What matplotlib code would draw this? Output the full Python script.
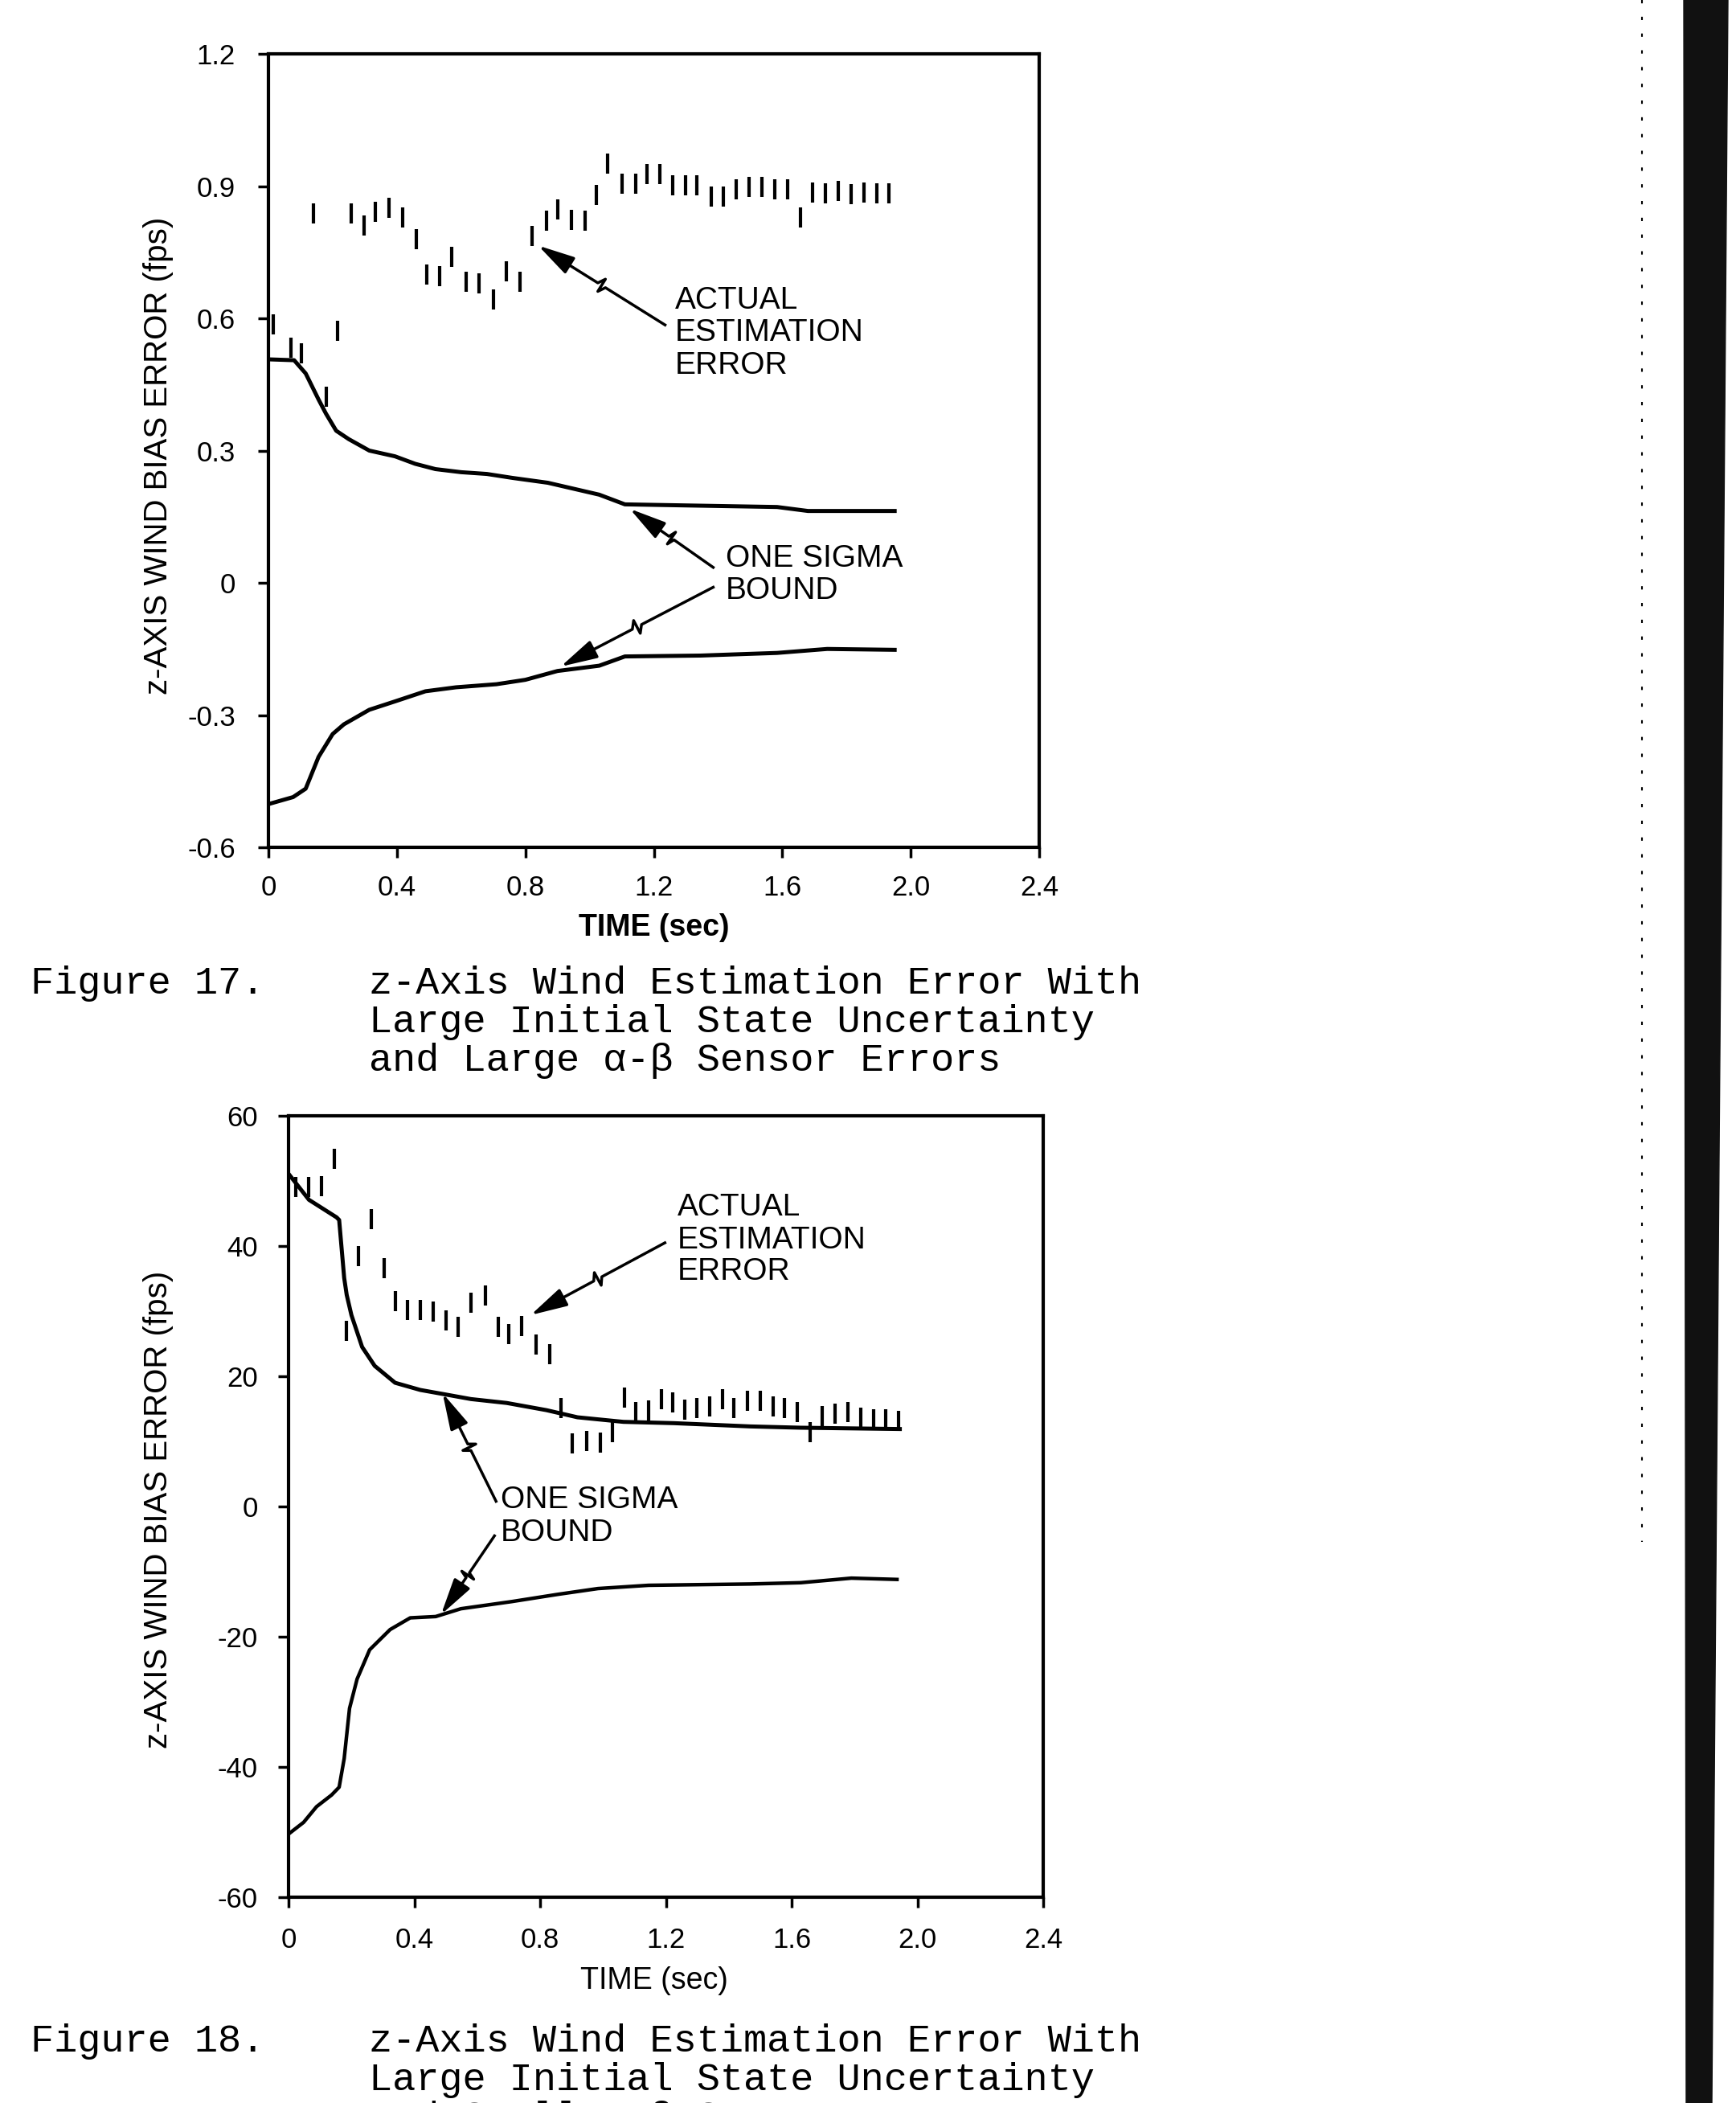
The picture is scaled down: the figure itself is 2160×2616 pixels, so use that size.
import numpy as np
import matplotlib
matplotlib.use("Agg")
import matplotlib.pyplot as plt
from matplotlib.lines import Line2D
from matplotlib.patches import Polygon

plt.rcParams['font.family'] = ['Liberation Sans', 'DejaVu Sans']
plt.rcParams['axes.unicode_minus'] = False

# ---- data ----
# Figure 17 (top): large alpha-beta sensor errors
top_err_t = [0.016, 0.071, 0.103, 0.14, 0.179, 0.216, 0.259, 0.298, 0.333, 0.375,
             0.417, 0.46, 0.494, 0.533, 0.571, 0.616, 0.656, 0.70, 0.74, 0.783,
             0.822, 0.865, 0.902, 0.944, 0.986, 1.021, 1.057, 1.10, 1.143, 1.179,
             1.219, 1.259, 1.298, 1.335, 1.378, 1.417, 1.457, 1.497, 1.537, 1.576,
             1.616, 1.656, 1.695, 1.735, 1.775, 1.814, 1.854, 1.894, 1.933]
top_err_v = [0.587, 0.535, 0.522, 0.838, 0.423, 0.572, 0.838, 0.812, 0.843, 0.851,
             0.83, 0.78, 0.70, 0.696, 0.741, 0.683, 0.68, 0.644, 0.708, 0.683,
             0.787, 0.822, 0.848, 0.825, 0.822, 0.88, 0.952, 0.906, 0.906, 0.929,
             0.929, 0.903, 0.903, 0.903, 0.877, 0.877, 0.893, 0.90, 0.90, 0.893,
             0.893, 0.83, 0.886, 0.884, 0.89, 0.882, 0.886, 0.884, 0.884]

top_up_t = [0, 0.08, 0.116, 0.156, 0.179, 0.211, 0.25, 0.314, 0.394, 0.457, 0.52,
            0.6, 0.68, 0.76, 0.87, 1.03, 1.11, 1.346, 1.584, 1.68, 1.95]
top_up_v = [0.507, 0.505, 0.475, 0.416, 0.384, 0.345, 0.326, 0.30, 0.287, 0.27, 0.258,
            0.251, 0.247, 0.238, 0.227, 0.20, 0.178, 0.175, 0.172, 0.163, 0.163]
top_lo_t = [0, 0.077, 0.116, 0.156, 0.2, 0.235, 0.314, 0.394, 0.489, 0.584, 0.71,
            0.80, 0.90, 1.03, 1.11, 1.346, 1.584, 1.74, 1.95]
top_lo_v = [-0.502, -0.486, -0.467, -0.395, -0.343, -0.321, -0.288, -0.269, -0.246,
            -0.237, -0.23, -0.22, -0.20, -0.188, -0.167, -0.165, -0.159, -0.150, -0.152]

# Figure 18 (bottom)
bot_err_t = [0.024, 0.065, 0.105, 0.145, 0.185, 0.223, 0.263, 0.303, 0.339, 0.379,
             0.419, 0.46, 0.5, 0.54, 0.58, 0.626, 0.666, 0.70, 0.742, 0.787,
             0.831, 0.866, 0.903, 0.948, 0.992, 1.029, 1.068, 1.105, 1.145, 1.185,
             1.223, 1.261, 1.298, 1.339, 1.379, 1.416, 1.46, 1.5, 1.54, 1.577,
             1.618, 1.658, 1.698, 1.739, 1.779, 1.819, 1.86, 1.9, 1.94]
bot_err_v = [49.1, 49.1, 49.3, 53.5, 27.0, 38.5, 44.2, 36.7, 31.6, 30.3,
             30.3, 30.0, 28.7, 27.6, 31.4, 32.5, 27.6, 26.5, 27.8, 25.0,
             23.4, 15.2, 9.7, 10.1, 9.9, 11.5, 16.8, 14.6, 14.8, 16.5,
             16.1, 15.0, 15.2, 15.4, 16.5, 15.2, 16.3, 16.3, 15.4, 15.2,
             14.6, 11.5, 13.9, 14.3, 14.6, 13.7, 13.5, 13.5, 13.2]

bot_up_t = [0, 0.065, 0.153, 0.161, 0.177, 0.185, 0.2, 0.234, 0.274, 0.339, 0.419,
            0.5, 0.58, 0.694, 0.82, 0.919, 1.065, 1.226, 1.468, 1.629, 1.944]
bot_up_v = [51.1, 47.1, 44.4, 44.0, 35.1, 32.5, 29.4, 24.5, 21.6, 19.0, 17.9,
            17.2, 16.5, 15.9, 14.8, 13.7, 13.0, 12.8, 12.3, 12.1, 11.9]
bot_lo_t = [0, 0.048, 0.089, 0.137, 0.161, 0.177, 0.194, 0.218, 0.258, 0.323, 0.387,
            0.468, 0.548, 0.71, 0.855, 0.984, 1.145, 1.468, 1.629, 1.79, 1.935]
bot_lo_v = [-50.3, -48.5, -46.1, -44.3, -43.1, -38.7, -31.0, -26.5, -22.0, -18.9, -17.1,
            -16.9, -15.7, -14.6, -13.5, -12.6, -12.1, -11.9, -11.7, -11.0, -11.2]

x_ticks = [0, 0.4, 0.8, 1.2, 1.6, 2.0, 2.4]
x_labels = ["0", "0.4", "0.8", "1.2", "1.6", "2.0", "2.4"]
top_yticks = [-0.6, -0.3, 0, 0.3, 0.6, 0.9, 1.2]
top_ylabels = ["-0.6", "-0.3", "0", "0.3", "0.6", "0.9", "1.2"]
bot_yticks = [-60, -40, -20, 0, 20, 40, 60]
bot_ylabels = ["-60", "-40", "-20", "0", "20", "40", "60"]

W, H = 2160, 2616
fig = plt.figure(figsize=(W / 100, H / 100), dpi=100)


def px(x, y):
    return x / W, 1 - y / H


def style_axes(ax, yticks, ylabels, ylim, ypad, xpad):
    ax.set_xlim(0, 2.4)
    ax.set_ylim(*ylim)
    ax.set_xticks(x_ticks)
    ax.set_xticklabels(x_labels)
    ax.set_yticks(yticks)
    ax.set_yticklabels(ylabels)
    for s in ax.spines.values():
        s.set_linewidth(3)
    ax.tick_params(direction='out', length=9.5, width=2.5, labelsize=25)
    ax.tick_params(axis='y', pad=ypad)
    ax.tick_params(axis='x', pad=xpad)


def zigzag_arrow(ax, tail, tip, frac=0.5, amp=9, gap=0.03, lw=2.5):
    T = ax.transData
    a = np.array(T.transform(tail))
    b = np.array(T.transform(tip))
    d = b - a
    u = d / np.hypot(*d)
    n = np.array([-u[1], u[0]])
    p1 = a + d * (frac - gap)
    p2 = a + d * frac + n * amp
    p3 = a + d * frac - n * amp
    p4 = a + d * (frac + gap)
    base = b - u * 30
    pts = T.inverted().transform(np.array([a, p1, p2, p3, p4, base]))
    ax.plot(pts[:, 0], pts[:, 1], color='black', lw=lw)
    ax.annotate('', xy=tip, xytext=tuple(pts[-1]),
                arrowprops=dict(arrowstyle='-|>,head_length=0.7,head_width=0.18',
                                mutation_scale=40, color='black', lw=lw,
                                shrinkA=0, shrinkB=0))


# ---- top chart (Figure 17) ----
ax1 = fig.add_axes([334 / W, 1 - 1054 / H, (1293 - 334) / W, (1054 - 67) / H])
style_axes(ax1, top_yticks, top_ylabels, (-0.6, 1.2), 20, 15)
ax1.plot(top_up_t, top_up_v, color='black', lw=3.6)
ax1.plot(top_lo_t, top_lo_v, color='black', lw=3.6)
ax1.plot(top_err_t, top_err_v, ls='none', marker='|', ms=18, mew=3, color='black')

for txt, y in [("ACTUAL", 0.641), ("ESTIMATION", 0.568), ("ERROR", 0.492)]:
    ax1.text(1.265, y, txt, fontsize=28, ha='left', va='center')
for txt, y in [("ONE SIGMA", 0.054), ("BOUND", -0.019)]:
    ax1.text(1.423, y, txt, fontsize=28, ha='left', va='center')

zigzag_arrow(ax1, (1.235, 0.585), (0.84, 0.765))
zigzag_arrow(ax1, (1.385, 0.035), (1.125, 0.168))
zigzag_arrow(ax1, (1.385, -0.01), (0.91, -0.19))

# ---- bottom chart (Figure 18) ----
ax2 = fig.add_axes([359 / W, 1 - 2360 / H, (1298 - 359) / W, (2360 - 1388) / H])
style_axes(ax2, bot_yticks, bot_ylabels, (-60, 60), 18, 17)
ax2.plot(bot_up_t, bot_up_v, color='black', lw=3.6)
ax2.plot(bot_lo_t, bot_lo_v, color='black', lw=3.2)
ax2.plot(bot_err_t, bot_err_v, ls='none', marker='|', ms=18, mew=3, color='black')

for txt, y in [("ACTUAL", 45.9), ("ESTIMATION", 40.9), ("ERROR", 36.0)]:
    ax2.text(1.237, y, txt, fontsize=28, ha='left', va='center')
for txt, y in [("ONE SIGMA", 1.0), ("BOUND", -4.1)]:
    ax2.text(0.674, y, txt, fontsize=28, ha='left', va='center')

zigzag_arrow(ax2, (1.197, 40.5), (0.77, 29.4))
zigzag_arrow(ax2, (0.66, 0.8), (0.49, 17.4))
zigzag_arrow(ax2, (0.655, -4.5), (0.485, -16.6))

# ---- axis titles ----
ylab = "z-AXIS WIND BIAS ERROR (fps)"
fig.text(*px(197, 567), ylab, rotation=90, ha='center', va='center', fontsize=29)
fig.text(*px(197, 1878), ylab, rotation=90, ha='center', va='center', fontsize=29)
fig.text(*px(814, 1154), "TIME (sec)", ha='center', va='center', fontsize=27, weight='bold')
fig.text(*px(814, 2464), "TIME (sec)", ha='center', va='center', fontsize=27)

# ---- captions ----
mono = ['Liberation Mono', 'DejaVu Sans Mono']
cap17 = ["z-Axis Wind Estimation Error With",
         "Large Initial State Uncertainty",
         "and Large \u03b1-\u03b2 Sensor Errors"]
cap18 = ["z-Axis Wind Estimation Error With",
         "Large Initial State Uncertainty",
         "and Small \u03b1-\u03b2 Sensor Errors"]
fig.text(*px(38, 1223), "Figure 17.", ha='left', va='center', fontsize=35, family=mono)
for i, line in enumerate(cap17):
    fig.text(*px(459, 1223 + 48 * i), line, ha='left', va='center', fontsize=35, family=mono)
fig.text(*px(38, 2539), "Figure 18.", ha='left', va='center', fontsize=35, family=mono)
for i, line in enumerate(cap18):
    fig.text(*px(459, 2539 + 48 * i), line, ha='left', va='center', fontsize=35, family=mono)

# ---- scan edge artefacts ----
fig.add_artist(Line2D([2043 / W, 2043 / W], [1, 1 - 1918 / H], transform=fig.transFigure,
                      ls=(0, (2, 8)), lw=1.5, color='black'))
fig.add_artist(Polygon([px(2095, 0), px(2150, 0), px(2130, H), px(2098, H)],
                       closed=True, transform=fig.transFigure, color='#111111'))

fig.savefig("out.png", dpi=100, facecolor='white')
